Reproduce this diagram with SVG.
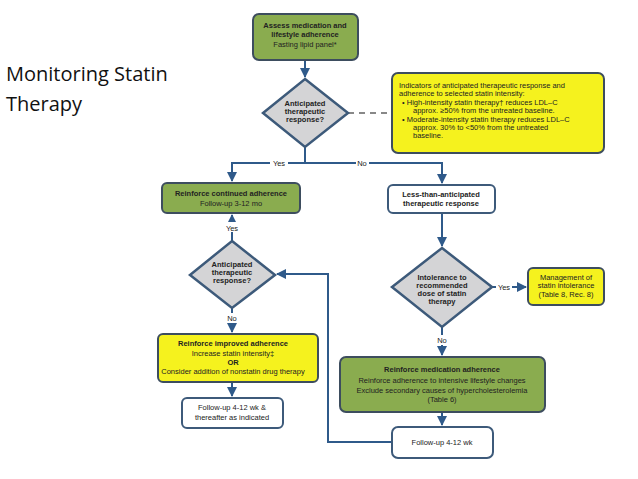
<svg xmlns="http://www.w3.org/2000/svg" width="638" height="479" viewBox="0 0 638 479">
<defs>
<marker id="ar" viewBox="0 0 10 10" refX="9" refY="5" markerWidth="5" markerHeight="5" orient="auto"><path d="M0,0L10,5L0,10z" fill="#2f5a8a"/></marker>
<style>
.g{fill:#8aac4f;stroke:#3d4d5e;stroke-width:2}
.y{fill:#f5f21e;stroke:#3d4d5e;stroke-width:2}
.w{fill:#fff;stroke:#3d5a7a;stroke-width:2}
.d{fill:#d4d4d6;stroke:#3d5a7a;stroke-width:2.5}
.c{fill:none;stroke:#2f5a8a;stroke-width:2}
text{font-family:"Liberation Sans",Arial,sans-serif;font-size:7.5px;fill:#222;text-anchor:middle}
.b{font-weight:bold}
.l{text-anchor:start}
.t{font-family:"Open Sans","Liberation Sans",sans-serif;font-size:20px;text-anchor:start;fill:#111}
</style>
</defs>
<rect width="638" height="479" fill="#fff"/>
<text class="t" x="6" y="81">Monitoring Statin</text>
<text class="t" x="6" y="111">Therapy</text>
<g id="connectors">
<path class="c" d="M305,60V77" marker-end="url(#ar)"/>
<path d="M348,113H392" stroke="#888" stroke-width="2" stroke-dasharray="6,5" fill="none"/>
<path class="c" d="M305,147V163H232V181" marker-end="url(#ar)"/>
<path class="c" d="M305,163H442V183" marker-end="url(#ar)"/>
<path class="c" d="M232,241V215" marker-end="url(#ar)"/>
<path class="c" d="M232,308V332" marker-end="url(#ar)"/>
<path class="c" d="M232,382V396" marker-end="url(#ar)"/>
<path class="c" d="M442,213V246" marker-end="url(#ar)"/>
<path class="c" d="M492,287H526" marker-end="url(#ar)"/>
<path class="c" d="M442,327V355" marker-end="url(#ar)"/>
<path class="c" d="M442,412V425" marker-end="url(#ar)"/>
<path class="c" d="M392,442H328V274H277" marker-end="url(#ar)"/>
<rect x="270" y="157" width="18" height="10" fill="#fff"/><text x="279" y="166">Yes</text>
<rect x="356" y="157" width="13" height="10" fill="#fff"/><text x="362" y="166">No</text>
<rect x="224" y="222" width="16" height="10" fill="#fff"/><text x="232" y="231">Yes</text>
<rect x="226" y="313" width="12" height="10" fill="#fff"/><text x="232" y="321">No</text>
<rect x="496" y="282" width="16" height="10" fill="#fff"/><text x="504" y="290">Yes</text>
<rect x="436" y="335" width="12" height="10" fill="#fff"/><text x="442" y="343">No</text>
</g>
<g id="n1"><rect class="g" x="253" y="14" width="105" height="46" rx="6"/><text class="b" x="305" y="28">Assess medication and</text><text class="b" x="305" y="37">lifestyle adherence</text><text x="305" y="47">Fasting lipid panel*</text></g>
<g id="n2"><path class="d" d="M305,79L348,113L305,147L263,113z"/><text class="b" x="305" y="106">Anticipated</text><text class="b" x="305" y="114">therapeutic</text><text class="b" x="305" y="122">response?</text></g>
<g id="n3"><rect class="y" x="392" y="73" width="212" height="80" rx="6"/>
<text class="l" x="399" y="88">Indicators of anticipated therapeutic response and</text>
<text class="l" x="399" y="96">adherence to selected statin intensity:</text>
<text class="l" x="402" y="105">•  High-intensity statin therapy† reduces LDL–C</text>
<text class="l" x="413" y="113">approx. ≥50% from the untreated baseline.</text>
<text class="l" x="402" y="122">•  Moderate-intensity statin therapy reduces LDL–C</text>
<text class="l" x="413" y="130">approx. 30% to &lt;50% from the untreated</text>
<text class="l" x="413" y="138">baseline.</text></g>
<g id="n4"><rect class="g" x="162" y="183" width="138" height="30" rx="5"/><text class="b" x="231" y="196">Reinforce continued adherence</text><text x="231" y="206">Follow-up 3-12 mo</text></g>
<g id="n5"><rect class="w" x="388" y="185" width="107" height="28" rx="5"/><text class="b" x="441" y="197">Less-than-anticipated</text><text class="b" x="441" y="206">therapeutic response</text></g>
<g id="n6"><path class="d" d="M232,241L275,275L232,308L190,275z"/><text class="b" x="232" y="267">Anticipated</text><text class="b" x="232" y="275">therapeutic</text><text class="b" x="232" y="283">response?</text></g>
<g id="n7"><rect class="y" x="158" y="334" width="160" height="48" rx="5"/><text class="b" x="233" y="346">Reinforce improved adherence</text><text x="233" y="356">Increase statin intensity‡</text><text class="b" x="233" y="365">OR</text><text x="233" y="374">Consider addition of nonstatin drug therapy</text></g>
<g id="n8"><rect class="w" x="182" y="398" width="101" height="30" rx="5"/><text x="232" y="410">Follow-up 4-12 wk &amp;</text><text x="232" y="420">thereafter as indicated</text></g>
<g id="n9"><path class="d" d="M442,248L492,287L442,327L392,287z"/><text class="b" x="442" y="280">Intolerance to</text><text class="b" x="442" y="288">recommended</text><text class="b" x="442" y="296">dose of statin</text><text class="b" x="442" y="304">therapy</text></g>
<g id="n10"><rect class="y" x="528" y="268" width="76" height="37" rx="5"/><text x="566" y="280">Management of</text><text x="566" y="288">statin intolerance</text><text x="566" y="297">(Table 8, Rec. 8)</text></g>
<g id="n11"><rect class="g" x="340" y="357" width="205" height="55" rx="6"/><text class="b" x="442" y="372">Reinforce medication adherence</text><text x="442" y="383">Reinforce adherence to intensive lifestyle changes</text><text x="442" y="393">Exclude secondary causes of hypercholesterolemia</text><text x="442" y="402">(Table 6)</text></g>
<g id="n12"><rect class="w" x="392" y="427" width="101" height="31" rx="6"/><text x="442" y="445">Follow-up 4-12 wk</text></g>
</svg>
